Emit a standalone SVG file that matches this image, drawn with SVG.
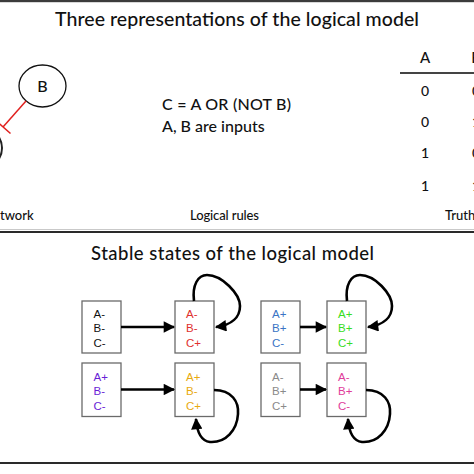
<svg xmlns="http://www.w3.org/2000/svg" width="474" height="474" viewBox="0 0 474 474">
<style>
.t{font-family:Lato,"Open Sans","Liberation Sans",sans-serif;fill:#111;font-weight:500}
.bx{fill:#fff;stroke:#6a6a6a;stroke-width:1.3}
.bt{font-family:"Liberation Sans",Arial,sans-serif;font-size:11.5px}
.ar{fill:none;stroke:#000;stroke-width:2.6}
.sep{stroke:#2a2a2a;stroke-width:2}
</style>
<defs>
<marker id="ah" viewBox="0 0 10 10" refX="9" refY="5" markerWidth="4.6" markerHeight="4.4" markerUnits="strokeWidth" orient="auto">
<path d="M0,0 L10,5 L0,10 Z" fill="#000"/>
</marker>
</defs>
<rect width="474" height="474" fill="#fff"/>
<rect x="0" y="0" width="474" height="2.2" fill="#3c3c3c"/>
<line class="sep" x1="0" y1="232" x2="474" y2="232"/>
<line x1="0" y1="229.5" x2="474" y2="229.5" stroke="#bbb" stroke-width="0.8"/>
<line class="sep" x1="0" y1="463" x2="474" y2="463"/>

<text class="t" x="237" y="25.5" font-size="19.5" text-anchor="middle" textLength="364">Three representations of the logical model</text>

<g id="network">
<g id="nodeB">
<ellipse cx="42.5" cy="86" rx="23.5" ry="21" fill="none" stroke="#111" stroke-width="1.3"/>
<text class="t" x="42.5" y="92" font-size="16" text-anchor="middle">B</text>
</g>
<g id="nodeC">
<ellipse cx="-20" cy="148" rx="22" ry="21" fill="none" stroke="#222" stroke-width="2"/>
</g>
<text class="t" x="0" y="220" font-size="13">twork</text>
</g>

<g id="rules">
<text class="t" x="162" y="110" font-size="16" textLength="129">C = A OR (NOT B)</text>
<text class="t" x="162" y="132" font-size="16">A, B are inputs</text>
<text class="t" x="224.5" y="220" font-size="13" text-anchor="middle" textLength="69">Logical rules</text>
</g>

<g id="table">
<text class="t" x="425" y="63" font-size="15" text-anchor="middle">A</text>
<text class="t" x="476" y="63" font-size="15" text-anchor="middle">B</text>
<line x1="400" y1="73" x2="474" y2="73" stroke="#444" stroke-width="1.8"/>
<g class="t" font-size="14" text-anchor="middle">
<text x="425" y="96">0</text><text x="476" y="96">0</text>
<text x="425" y="127">0</text><text x="476" y="127">1</text>
<text x="425" y="158">1</text><text x="476" y="158">0</text>
<text x="425" y="191">1</text><text x="476" y="191">1</text>
</g>
<text class="t" x="445" y="220" font-size="13">Truth</text>
</g>

<text class="t" x="232.5" y="259.5" font-size="18.5" text-anchor="middle" textLength="283">Stable states of the logical model</text>

<g id="s1"><rect class="bx" x="82" y="301" width="39" height="52"/>
<text class="bt" fill="#111"><tspan y="317.5" x="93.5">A-</tspan><tspan y="332" x="93.5">B-</tspan><tspan y="346.5" x="93.5">C-</tspan></text></g>
<g id="s2"><rect class="bx" x="175" y="301" width="39" height="52"/>
<text class="bt" fill="#e0302e"><tspan y="317.5" x="186">A-</tspan><tspan y="332" x="186">B-</tspan><tspan y="346.5" x="186">C+</tspan></text></g>
<g id="s3"><rect class="bx" x="82" y="363" width="39" height="53.5"/>
<text class="bt" fill="#6a1ed6"><tspan y="380.5" x="93.5">A+</tspan><tspan y="395" x="93.5">B-</tspan><tspan y="409.5" x="93.5">C-</tspan></text></g>
<g id="s4"><rect class="bx" x="175" y="363" width="39" height="53.5"/>
<text class="bt" fill="#e8aa10"><tspan y="380.5" x="186">A+</tspan><tspan y="395" x="186">B-</tspan><tspan y="409.5" x="186">C+</tspan></text></g>
<g id="s5"><rect class="bx" x="261" y="301" width="39" height="52"/>
<text class="bt" fill="#3a74c4"><tspan y="317.5" x="272">A+</tspan><tspan y="332" x="272">B+</tspan><tspan y="346.5" x="272">C-</tspan></text></g>
<g id="s6"><rect class="bx" x="327" y="301" width="39" height="52"/>
<text class="bt" fill="#38dd22"><tspan y="317.5" x="338">A+</tspan><tspan y="332" x="338">B+</tspan><tspan y="346.5" x="338">C+</tspan></text></g>
<g id="s7"><rect class="bx" x="261" y="363" width="39" height="53.5"/>
<text class="bt" fill="#8a8a8a"><tspan y="380.5" x="272">A-</tspan><tspan y="395" x="272">B+</tspan><tspan y="409.5" x="272">C+</tspan></text></g>
<g id="s8"><rect class="bx" x="327" y="363" width="39" height="53.5"/>
<text class="bt" fill="#e03c9a"><tspan y="380.5" x="338">A-</tspan><tspan y="395" x="338">B+</tspan><tspan y="409.5" x="338">C-</tspan></text></g>

<g id="connectors">
<line x1="26" y1="101" x2="3" y2="127" stroke="#e0201e" stroke-width="1.5"/>
<line x1="-3" y1="121.5" x2="10.5" y2="133.5" stroke="#e0201e" stroke-width="1.5"/>
<line class="ar" x1="121" y1="327" x2="174" y2="327" marker-end="url(#ah)"/>
<line class="ar" x1="121" y1="389.5" x2="174" y2="389.5" marker-end="url(#ah)"/>
<line class="ar" x1="300" y1="327" x2="326" y2="327" marker-end="url(#ah)"/>
<line class="ar" x1="300" y1="389.5" x2="326" y2="389.5" marker-end="url(#ah)"/>
<path class="ar" d="M194,301 C192,285 198,275 207,275 C222,275 240,294 240,306 C240,317 232,325 216,327" marker-end="url(#ah)"/>
<path class="ar" d="M347,301 C345,285 351,275 360,275 C375,275 392,294 392,306 C392,317 384,325 368,327" marker-end="url(#ah)"/>
<path class="ar" d="M214,390 C232,390 239,402 238,414 C237,430 226,443 210,442 C201,441 197,432 196,419" marker-end="url(#ah)"/>
<path class="ar" d="M366,390 C384,390 391,402 390,414 C389,430 378,443 362,442 C353,441 349,432 348,419" marker-end="url(#ah)"/>
</g>
</svg>
